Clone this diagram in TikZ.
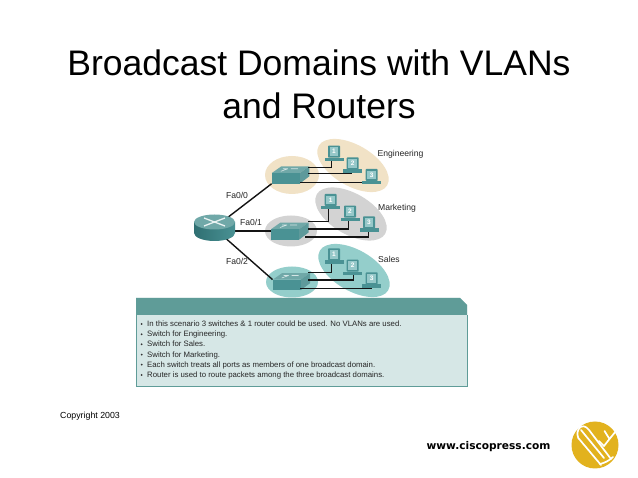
\documentclass[tikz,border=0pt]{standalone}
\usepackage{fontspec}
\setmainfont{Liberation Sans}
\newfontfamily\urlfont{DejaVu Sans}
\usetikzlibrary{shapes.geometric,calc}
\definecolor{engfill}{HTML}{F1E2C6}
\definecolor{mktfill}{HTML}{D3D3D3}
\definecolor{salfill}{HTML}{94CECB}
\definecolor{swfront}{HTML}{4A9294}
\definecolor{swtop}{HTML}{70A8A8}
\definecolor{swside}{HTML}{5E9A9B}
\definecolor{pcscr}{HTML}{96C8C9}
\definecolor{head}{HTML}{5F9C98}
\definecolor{body}{HTML}{D6E7E6}
\definecolor{wire}{HTML}{141414}
\definecolor{logo}{HTML}{E2B21E}
\definecolor{rdark}{HTML}{2F6F72}
\definecolor{rlight}{HTML}{8ABDBD}
\tikzset{
  x=1pt,y=-1pt,
  wirestyle/.style={draw=wire,line width=1.4pt},
  swbox/.style={rectangle,fill=swfront,minimum width=28pt,minimum height=10.5pt,inner sep=0pt},
  pcscreen/.style={rectangle,fill=swfront,minimum width=12pt,minimum height=12pt,inner sep=0pt,rounded corners=.8pt},
  pcface/.style={rectangle,fill=pcscr,minimum width=8.5pt,minimum height=8.5pt,inner sep=0pt,text=white,font=\fontsize{6.5}{6.5}\selectfont\bfseries},
  pcbase/.style={rectangle,fill=swfront,minimum width=19pt,minimum height=3.5pt,inner sep=0pt},
  lbl/.style={font=\fontsize{8.6}{10}\selectfont,text=black!85,inner sep=0pt},
  bul/.style={font=\fontsize{7.8}{9}\selectfont,text=black!85,inner sep=0pt,anchor=base west},
  title/.style={font=\fontsize{35.5}{40}\selectfont,inner sep=0pt,anchor=base,text=black}
}
% \swunit{name}{x}{y}: switch with 3D top and side faces
\newcommand{\swunit}[3]{%
  \fill[swtop] (#2-14,#3-5.25) -- ++(9.5,-6.7) -- ++(28,0) -- ++(-9.5,6.7) -- cycle;
  \fill[swside] (#2+14,#3-5.25) -- ++(9.5,-6.7) -- ++(0,10) -- ++(-9.5,7.2) -- cycle;
  \draw[white!70!swtop,line width=.6pt] (#2-5,#3-7) -- ++(7,-2.5) (#2+5,#3-9.5) -- ++(7,0) (#2-3,#3-9.5) -- ++(5,0);
  \node[swbox] (#1) at (#2,#3) {};
}
% \pcunit{name}{x}{y}{digit}
\newcommand{\pcunit}[4]{%
  \node[pcbase] (#1b) at (#2,#3+7.7) {};
  \node[pcscreen] (#1) at (#2,#3) {};
  \node[pcface] (#1s) at (#2,#3) {#4};
}
\begin{document}
\begin{tikzpicture}
\useasboundingbox (0,0) rectangle (638,478);
\fill[white] (0,0) rectangle (638,478);

% title
\node[title] (t1) at (319,75.5) {Broadcast Domains with VLANs};
\node[title] (t2) at (319,119) {and Routers};

% domains
\node[ellipse,fill=engfill,minimum width=79pt,minimum height=41pt,inner sep=0pt,rotate=-30] (ebig) at (353,165.5) {};
\node[ellipse,fill=engfill,minimum width=54pt,minimum height=38pt,inner sep=0pt] (esw) at (292,175) {};
\node[ellipse,fill=mktfill,minimum width=79pt,minimum height=41pt,inner sep=0pt,rotate=-30] (mbig) at (351,214) {};
\node[ellipse,fill=mktfill,minimum width=52pt,minimum height=31pt,inner sep=0pt] (msw) at (291,231) {};
\node[ellipse,fill=salfill,minimum width=79pt,minimum height=41pt,inner sep=0pt,rotate=-30] (sbig) at (354,270.5) {};
\node[ellipse,fill=salfill,minimum width=52pt,minimum height=31pt,inner sep=0pt] (ssw) at (292,282) {};

% switch ports and elbows
\coordinate (p11) at (308,167.7);
\coordinate (p12) at (308,173.3);
\coordinate (p13) at (300,182.7);
\coordinate (p21) at (308,221.7);
\coordinate (p22) at (308,229);
\coordinate (p23) at (305,237);
\coordinate (p31) at (308,272.3);
\coordinate (p32) at (308,280);
\coordinate (p33) at (300,288.7);
\coordinate (q11) at (331.7,160);
\coordinate (q12) at (351.7,170);
\coordinate (q21) at (328.3,206);
\coordinate (q22) at (348.3,220);
\coordinate (q23) at (368.3,232);
\coordinate (q31) at (331.7,263);
\coordinate (q32) at (353.3,275);
\coordinate (rcenter) at (214,228);
\coordinate (rp) at (214,231);

% devices
\swunit{sw1}{285.8}{178.3}
\swunit{sw2}{285}{234.5}
\swunit{sw3}{286.7}{285}

% connectors
\draw[wirestyle] (p11) -| (q11);
\draw[wirestyle] (p12) -| (q12);
\draw[wirestyle] (p21) -| (q21);
\draw[wirestyle] (p22) -| (q22);
\draw[wirestyle] (p23) -| (q23);
\draw[wirestyle] (p31) -| (q31);
\draw[wirestyle] (p32) -| (q32);
\coordinate (e3end) at (366,182.7);
\coordinate (s3end) at (372,288.7);
\draw[wirestyle] (p13) -- (e3end);
\draw[wirestyle] (p33) -- (s3end);
\draw[wirestyle] (rcenter) -- (sw1.south west);
\draw[wirestyle] (rp) -- (rp -| sw2.west);
\draw[wirestyle] (rcenter) -- (sw3.north west);

\pcunit{e1}{334}{151.7}{1}
\pcunit{e2}{352.7}{163.3}{2}
\pcunit{e3}{371.7}{175}{3}
\pcunit{m1}{330.7}{200}{1}
\pcunit{m2}{350}{211.7}{2}
\pcunit{m3}{369}{222.3}{3}
\pcunit{s1}{334}{254.3}{1}
\pcunit{s2}{352.7}{265.7}{2}
\pcunit{s3}{371.7}{278.3}{3}

% router
\shade[left color=rdark,middle color=rlight,right color=swfront] (194,222) -- (194,233) arc[start angle=180,end angle=0,x radius=20.5,y radius=8] -- (235,222) -- cycle;
\node[ellipse,fill=swtop,minimum width=41pt,minimum height=15pt,inner sep=0pt] (rt) at (214.5,222) {};
\draw[white!85!swtop,line width=1.3pt] (204,218) -- (225,226) (204,226) -- (225,218);

% labels
\node[lbl] (l0) at (237,195) {Fa0/0};
\node[lbl] (l1) at (251,222) {Fa0/1};
\node[lbl] (l2) at (237,261) {Fa0/2};
\node[lbl] (len) at (400.5,154) {Engineering};
\node[lbl] (lm) at (397,208) {Marketing};
\node[lbl] (ls) at (389,259) {Sales};

% panel
\fill[body] (136,298) -- (460,298) -- (467,305) -- (467,386) -- (136,386) -- cycle;
\fill[head] (136,298) -- (460,298) -- (467,305) -- (467,315) -- (136,315) -- cycle;
\draw[head,line width=.8pt] (136,315) -- (136,386) -- (467,386) -- (467,315);
\node[bul] (b1) at (147,326.5) {In this scenario 3 switches \& 1 router could be used. No VLANs are used.};
\node[bul] (b2) at (147,336.8) {Switch for Engineering.};
\node[bul] (b3) at (147,346.8) {Switch for Sales.};
\node[bul] (b4) at (147,357.2) {Switch for Marketing.};
\node[bul] (b5) at (147,367.2) {Each switch treats all ports as members of one broadcast domain.};
\node[bul] (b6) at (147,377.5) {Router is used to route packets among the three broadcast domains.};
\foreach \yy in {324,334.3,344.3,354.7,364.7,375} \fill[black!80] (141.7,\yy) circle (1);

% footer
\node[font=\fontsize{8.8}{10}\selectfont,inner sep=0pt,anchor=base west] (copy) at (60,419) {Copyright 2003};
\node[font=\urlfont\bfseries\fontsize{10.6}{11}\selectfont,inner sep=0pt,anchor=base] (url) at (488.5,450) {www.ciscopress.com};

% logo
\node[circle,fill=logo,minimum size=47pt,inner sep=0pt] (lg) at (595,445) {};
\begin{scope}[white,line width=1.7pt,line cap=round,line join=round]
\draw (578.3,438) .. controls (575,430) and (582,421) .. (589,430) -- (611,459);
\draw (578.3,438) -- (601,465);
\draw (581,430) -- (604,458);
\draw (600,464) .. controls (604,463) and (609,461) .. (613,457);
\draw (604.5,431) -- (609.5,439) -- (616,431);
\draw (609.5,439) -- (604,446);
\draw (599,441) -- (604,446);
\end{scope}
\end{tikzpicture}
\end{document}
